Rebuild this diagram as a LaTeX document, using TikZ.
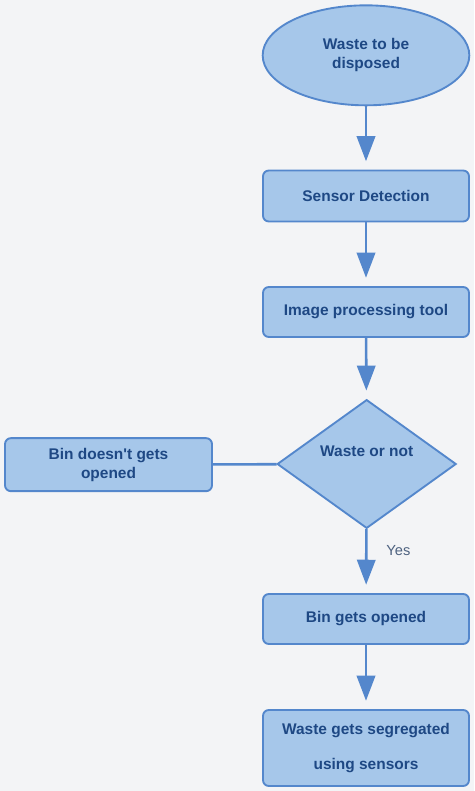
\documentclass[tikz,border=0pt]{standalone}
\usepackage{fontspec}
\setmainfont{Liberation Sans}[Ligatures=TeXOff]
\usetikzlibrary{shapes.geometric}
\usetikzlibrary{arrows.meta}
\definecolor{bgback}{RGB}{243,244,246}
\definecolor{boxfill}{RGB}{166,199,234}
\definecolor{boxline}{RGB}{84,135,204}
\definecolor{boxtext}{RGB}{30,72,132}
\definecolor{yestext}{RGB}{78,98,128}

\begin{document}
\begin{tikzpicture}[
		stepbox/.style={rectangle, rounded corners=5pt, draw=boxline, fill=boxfill, line width=1.6pt, text=boxtext, font=\bfseries\fontsize{13.2}{16}\selectfont, align=center, minimum width=6.18cm, minimum height=1.5cm},
		flowarrow/.style={draw=boxline, line width=2.2pt, -{Triangle[width=0.55cm,length=0.75cm]}, shorten >=0.25cm}
	]
				\fill[bgback] (0,0) rectangle (14.22,-23.73);
				\useasboundingbox (0,0) rectangle (14.22,-23.73);
				
				\node[ellipse, draw=boxline, fill=boxfill, line width=1.6pt, text=boxtext, font=\bfseries\fontsize{13.2}{16.5}\selectfont, align=center, minimum width=6.2cm, minimum height=3.0cm, inner sep=0pt] (W) at (10.98,-1.66) {Waste to be\\disposed};
				\node[stepbox, minimum height=1.53cm] (S) at (10.98,-5.88) {Sensor Detection};
				\node[stepbox] (I) at (10.98,-9.36) {Image processing tool};
				\node[diamond, draw=boxline, fill=boxfill, line width=1.6pt, text=boxtext, font=\bfseries\fontsize{13.2}{16}\selectfont, minimum width=5.37cm, minimum height=3.84cm, inner sep=0pt, text depth=0.75cm] (D) at (11.0,-13.92) {Waste or not};
				\node[stepbox, minimum width=6.21cm, minimum height=1.59cm] (N) at (3.255,-13.94) {Bin doesn't gets\\opened};
				\node[stepbox] (O) at (10.98,-18.57) {Bin gets opened};
				\node[stepbox, minimum height=2.28cm, font=\bfseries\fontsize{13.2}{29.5}\selectfont] (G) at (10.98,-22.44) {Waste gets segregated\\using sensors};
				
				\draw[flowarrow]  (W) -- (S);
				\draw[flowarrow]  (S) -- (I);
				\draw[flowarrow]  (I) -- (D);
				\draw[draw=boxline, line width=2.2pt]  (D) -- (N);
				\draw[flowarrow]  (D) -- (O) node[pos=0.34, right=0.45cm, text=yestext, font=\fontsize{12.5}{15}\selectfont] () {Yes};
				\draw[flowarrow]  (O) -- (G);
			\end{tikzpicture}
\end{document}
